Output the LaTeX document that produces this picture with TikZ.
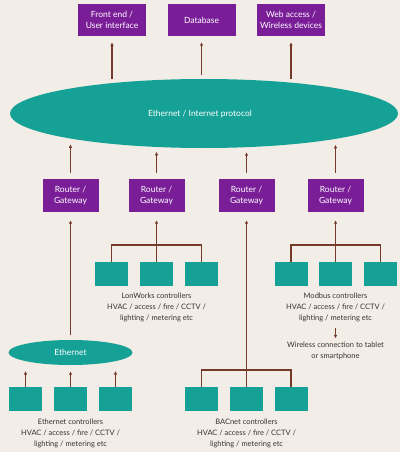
\documentclass[tikz,border=0pt]{standalone}
\usepackage{fontspec}
\setmainfont{Lato}
\usetikzlibrary{shapes.geometric,arrows.meta,calc}
\definecolor{bg}{RGB}{242,237,230}
\definecolor{purp}{RGB}{122,30,152}
\definecolor{tealc}{RGB}{22,161,150}
\definecolor{brn}{RGB}{118,58,42}
\definecolor{txt}{RGB}{60,50,48}
\begin{document}
\begin{tikzpicture}[x=1pt,y=-1pt,
  pbox/.style={fill=purp, text=white, minimum width=68pt, minimum height=32pt, align=center, inner sep=0pt, font=\fontsize{8.5}{10.6}\selectfont},
  rbox/.style={pbox, minimum width=56pt, minimum height=33pt},
  tbox/.style={fill=tealc, minimum width=33pt, minimum height=24pt, inner sep=0pt},
  lbl/.style={align=center, text=txt, inner sep=1pt, font=\fontsize{7.5}{11}\selectfont},
  arr/.style={draw=brn, line width=1.2pt, -{Latex[length=3.5pt,width=3.5pt]}},
  bus/.style={draw=brn, line width=1.2pt}]
\useasboundingbox (0,0) rectangle (400,452);
\fill[bg] (0,0) rectangle (400,452);
% top boxes
\node[pbox] (fe) at (112,20) {Front end /\\User interface};
\node[pbox] (db) at (201.5,20) {Database};
\node[pbox] (web) at (291,20) {Web access /\\Wireless devices};
% big ellipse
\node[ellipse, fill=tealc, minimum width=388pt, minimum height=69pt, inner sep=0pt] (ip) at (204,113.5) {};
\node[text=white, font=\fontsize{8.5}{10.5}\selectfont] (iptxt) at (200,114) {Ethernet / Internet protocol};
\draw[arr, shorten >=6pt] (fe.south |- ip.north) -- (fe.south);
\draw[arr, shorten >=6pt] ($(db.south |- ip.north)+(0,-4)$) -- (db.south);
\draw[arr, shorten >=6pt] (web.south |- ip.north) -- (web.south);
% routers
\node[rbox] (r1) at (70.5,195.5) {Router /\\Gateway};
\node[rbox] (r2) at (156.5,195.5) {Router /\\Gateway};
\node[rbox] (r3) at (246.5,195.5) {Router /\\Gateway};
\node[rbox] (r4) at (335.5,195.5) {Router /\\Gateway};
\coordinate (e1) at (70.5,138.4);
\coordinate (e2) at (156.5,146.9);
\coordinate (e3) at (246.5,147.2);
\coordinate (e4) at (335.5,138.8);
\draw[arr, shorten <=6pt, shorten >=6pt] (r1.north) -- (e1);
\draw[arr, shorten <=6pt, shorten >=5pt] (r2.north) -- (e2);
\draw[arr, shorten <=6pt, shorten >=5pt] (r3.north) -- (e3);
\draw[arr, shorten <=6pt, shorten >=6pt] (r4.north) -- (e4);
% LonWorks
\node[tbox] (l1) at (111.5,274) {};
\node[tbox] (l2) at (156.5,274) {};
\node[tbox] (l3) at (201.5,274) {};
\coordinate (lj) at (156.5,245);
\draw[bus] (l1.north) |- (lj) -| (l3.north);
\draw[bus] (l2.north) -- (lj);
\draw[arr, shorten >=8pt] (lj) -- (r2.south);
\node[lbl] (lonlbl) at (156.5,307.5) {LonWorks controllers\\HVAC / access / fire / CCTV /\\lighting / metering etc};
% Modbus
\node[tbox] (m1) at (291,274) {};
\node[tbox] (m2) at (335.5,274) {};
\node[tbox] (m3) at (380.5,274) {};
\coordinate (mj) at (335.5,245);
\draw[bus] (m1.north) |- (mj) -| (m3.north);
\draw[bus] (m2.north) -- (mj);
\draw[arr, shorten >=8pt] (mj) -- (r4.south);
\node[lbl] (modlbl) at (335.5,307.5) {Modbus controllers\\HVAC / access / fire / CCTV /\\lighting / metering etc};
\node[lbl] (wl) at (335.5,350.5) {Wireless connection to tablet\\or smartphone};
\draw[arr, shorten <=5pt, shorten >=2pt] (modlbl.south) -- (wl.north);
% Ethernet
\node[ellipse, fill=tealc, text=white, minimum width=124pt, minimum height=25pt, inner sep=0pt, font=\fontsize{8.5}{10.5}\selectfont] (eth) at (70.5,352.5) {Ethernet};
\draw[arr, shorten <=5pt, shorten >=8pt] (eth.north) -- (r1.south);
\node[tbox] (x1) at (25.5,399) {};
\node[tbox] (x2) at (70.5,399) {};
\node[tbox] (x3) at (115.5,399) {};
\coordinate (g1) at (25.5,365);
\coordinate (g3) at (115.5,365);
\draw[arr, shorten >=6pt] (x1.north) -- (g1);
\draw[arr, shorten >=6pt] (x2.north) -- (eth.south);
\draw[arr, shorten >=6pt] (x3.north) -- (g3);
\node[lbl] (ethlbl) at (70.5,433) {Ethernet controllers\\HVAC / access / fire / CCTV /\\lighting / metering etc};
% BACnet
\node[tbox] (b1) at (201.5,399) {};
\node[tbox] (b2) at (246.5,399) {};
\node[tbox] (b3) at (291,399) {};
\coordinate (bj) at (246.5,370);
\draw[bus] (b1.north) |- (bj) -| (b3.north);
\draw[bus] (b2.north) -- (bj);
\draw[arr, shorten >=8pt] (bj) -- (r3.south);
\node[lbl] (baclbl) at (246.5,433) {BACnet controllers\\HVAC / access / fire / CCTV /\\lighting / metering etc};
\end{tikzpicture}
\end{document}
